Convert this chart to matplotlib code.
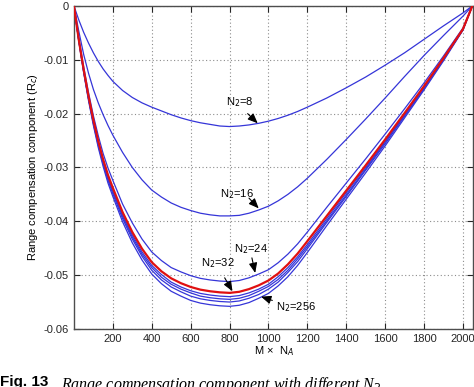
"""Range compensation component vs M x N_A for several N_2 (Fig. 13 redraw)."""

import matplotlib

matplotlib.use("Agg")
import matplotlib.pyplot as plt

# sample positions along M x N_A
mn = [0, 25, 50, 75, 100, 125, 150, 175, 200, 250, 300, 350, 400, 450, 500,
      550, 600, 650, 700, 750, 800, 850, 900, 950, 1000, 1050, 1100, 1150,
      1200, 1300, 1400, 1500, 1600, 1700, 1800, 1900, 2000, 2048]

rc_n8 = [0, -0.0026, -0.0049, -0.0069, -0.0087, -0.0103, -0.0117, -0.0129,
         -0.0140, -0.0157, -0.0170, -0.0180, -0.0188, -0.0195, -0.0202,
         -0.0208, -0.0213, -0.0217, -0.0220, -0.0223, -0.0224, -0.0223,
         -0.0221, -0.0218, -0.0214, -0.0209, -0.0203, -0.0196, -0.0188,
         -0.0171, -0.0152, -0.0132, -0.0110, -0.0087, -0.0062, -0.0037,
         -0.0013, 0]
rc_n16 = [0, -0.0047, -0.0090, -0.0125, -0.0155, -0.0180, -0.0202, -0.0222,
          -0.0240, -0.0272, -0.0300, -0.0323, -0.0342, -0.0355, -0.0366,
          -0.0374, -0.0380, -0.0385, -0.0388, -0.0390, -0.0390, -0.0389,
          -0.0385, -0.0379, -0.0372, -0.0362, -0.0350, -0.0336, -0.0320,
          -0.0285, -0.0248, -0.0210, -0.0171, -0.0131, -0.0092, -0.0055,
          -0.0019, 0]
rc_n24 = [0, -0.0060, -0.0113, -0.0161, -0.0204, -0.0241, -0.0274, -0.0301,
          -0.0324, -0.0368, -0.0403, -0.0433, -0.0457, -0.0473, -0.0486,
          -0.0494, -0.0501, -0.0506, -0.0509, -0.0511, -0.0512, -0.0510,
          -0.0505, -0.0498, -0.0490, -0.0477, -0.0461, -0.0442, -0.0420,
          -0.0374, -0.0329, -0.0284, -0.0238, -0.0191, -0.0143, -0.0093,
          -0.0041, 0]
rc_n32 = [0, -0.0063, -0.0118, -0.0168, -0.0212, -0.0251, -0.0285, -0.0314,
          -0.0338, -0.0383, -0.0420, -0.0451, -0.0476, -0.0493, -0.0506,
          -0.0515, -0.0522, -0.0527, -0.0530, -0.0532, -0.0533, -0.0531,
          -0.0526, -0.0519, -0.0510, -0.0497, -0.0480, -0.0460, -0.0437,
          -0.0390, -0.0343, -0.0296, -0.0248, -0.0199, -0.0149, -0.0097,
          -0.0043, 0]
rc_n48 = [0, -0.0064, -0.0120, -0.0170, -0.0215, -0.0254, -0.0289, -0.0318,
          -0.0342, -0.0388, -0.0425, -0.0457, -0.0482, -0.0499, -0.0513,
          -0.0522, -0.0529, -0.0534, -0.0537, -0.0539, -0.0540, -0.0538,
          -0.0533, -0.0526, -0.0517, -0.0503, -0.0486, -0.0466, -0.0443,
          -0.0395, -0.0347, -0.0300, -0.0251, -0.0202, -0.0151, -0.0098,
          -0.0044, 0]
rc_n64 = [0, -0.0064, -0.0121, -0.0172, -0.0217, -0.0257, -0.0291, -0.0321,
          -0.0345, -0.0391, -0.0429, -0.0461, -0.0486, -0.0504, -0.0517,
          -0.0526, -0.0533, -0.0539, -0.0542, -0.0544, -0.0545, -0.0543,
          -0.0538, -0.0530, -0.0521, -0.0508, -0.0491, -0.0470, -0.0447,
          -0.0399, -0.0351, -0.0303, -0.0253, -0.0203, -0.0152, -0.0099,
          -0.0044, 0]
rc_n128 = [0, -0.0065, -0.0122, -0.0173, -0.0219, -0.0259, -0.0294, -0.0324,
           -0.0349, -0.0395, -0.0433, -0.0465, -0.0491, -0.0509, -0.0522,
           -0.0531, -0.0539, -0.0544, -0.0547, -0.0549, -0.0550, -0.0548,
           -0.0543, -0.0536, -0.0526, -0.0513, -0.0495, -0.0475, -0.0451,
           -0.0402, -0.0354, -0.0305, -0.0256, -0.0205, -0.0154, -0.0100,
           -0.0044, 0]
rc_n256 = [0, -0.0066, -0.0124, -0.0176, -0.0222, -0.0263, -0.0298, -0.0329,
           -0.0354, -0.0401, -0.0440, -0.0472, -0.0498, -0.0516, -0.0530,
           -0.0539, -0.0547, -0.0552, -0.0555, -0.0557, -0.0558, -0.0556,
           -0.0551, -0.0543, -0.0534, -0.0520, -0.0503, -0.0482, -0.0458,
           -0.0408, -0.0359, -0.0310, -0.0260, -0.0208, -0.0156, -0.0102,
           -0.0045, 0]

x_ticks = [200, 400, 600, 800, 1000, 1200, 1400, 1600, 1800, 2000]
y_ticks = [0, -0.01, -0.02, -0.03, -0.04, -0.05, -0.06]
y_tick_labels = ["0", "-0.01", "-0.02", "-0.03", "-0.04", "-0.05", "-0.06"]

# (label, text position, arrow tail, arrow head) in data coords
annotations = [
    ("N$_2$=8", (855, -0.0178), (893, -0.0200), (945, -0.0218)),
    ("N$_2$=16", (840, -0.0349), (900, -0.0357), (950, -0.0376)),
    ("N$_2$=24", (911, -0.0452), (915, -0.0468), (932, -0.0496)),
    ("N$_2$=32", (739, -0.0478), (775, -0.0505), (815, -0.0530)),
    ("N$_2$=256", (1140, -0.0559), (1020, -0.0547), (962, -0.0540)),
]

BLUE = "#3535d8"


def main() -> None:
    plt.rcParams["font.family"] = ["Liberation Sans", "DejaVu Sans"]
    fig = plt.figure(figsize=(4.74, 3.87), dpi=100)
    ax = fig.add_axes([0.156, 0.150, 0.842, 0.8346])

    for ys in (rc_n8, rc_n16, rc_n24, rc_n48, rc_n64, rc_n128, rc_n256):
        ax.plot(mn, ys, color=BLUE, lw=0.9)
    ax.plot(mn, rc_n32, color="#e01010", lw=1.6, zorder=3)

    ax.set_xlim(0, 2052)
    ax.set_ylim(-0.06, 0)
    ax.set_xticks(x_ticks)
    ax.set_yticks(y_ticks)
    ax.set_yticklabels(y_tick_labels)
    ax.tick_params(direction="in", length=4, width=0.8, labelsize=8,
                   top=True, right=True, colors="0.15")
    ax.grid(True, color="0.55", linestyle=(0, (1, 2.2)), linewidth=0.8)
    for sp in ax.spines.values():
        sp.set_color("0.3")
        sp.set_linewidth(1.0)

    ax.set_xlabel("M \u00d7  N$_A$", fontsize=8, labelpad=0)
    ax.set_ylabel("Range compensation component (R$_c$)", fontsize=8, labelpad=3)

    for label, txt, tail, head in annotations:
        ax.text(txt[0], txt[1], label, fontsize=8, ha="center", va="center")
        ax.annotate("", xy=head, xytext=tail,
                    arrowprops=dict(arrowstyle="-|>,head_length=0.6,head_width=0.25",
                                    color="black", lw=0.8, shrinkA=0, shrinkB=0))

    # caption sits partly below the bottom edge, as in the cropped source
    fig.text(0.0, 0.032, "Fig. 13", fontsize=11, fontweight="bold",
             ha="left", va="top")
    fig.text(0.128, 0.032, "Range compensation component with different N$_2$",
             fontsize=11.5, family=["Liberation Serif", "DejaVu Serif"],
             style="italic", ha="left", va="top")

    fig.savefig("out.png", dpi=100)


if __name__ == "__main__":
    main()
